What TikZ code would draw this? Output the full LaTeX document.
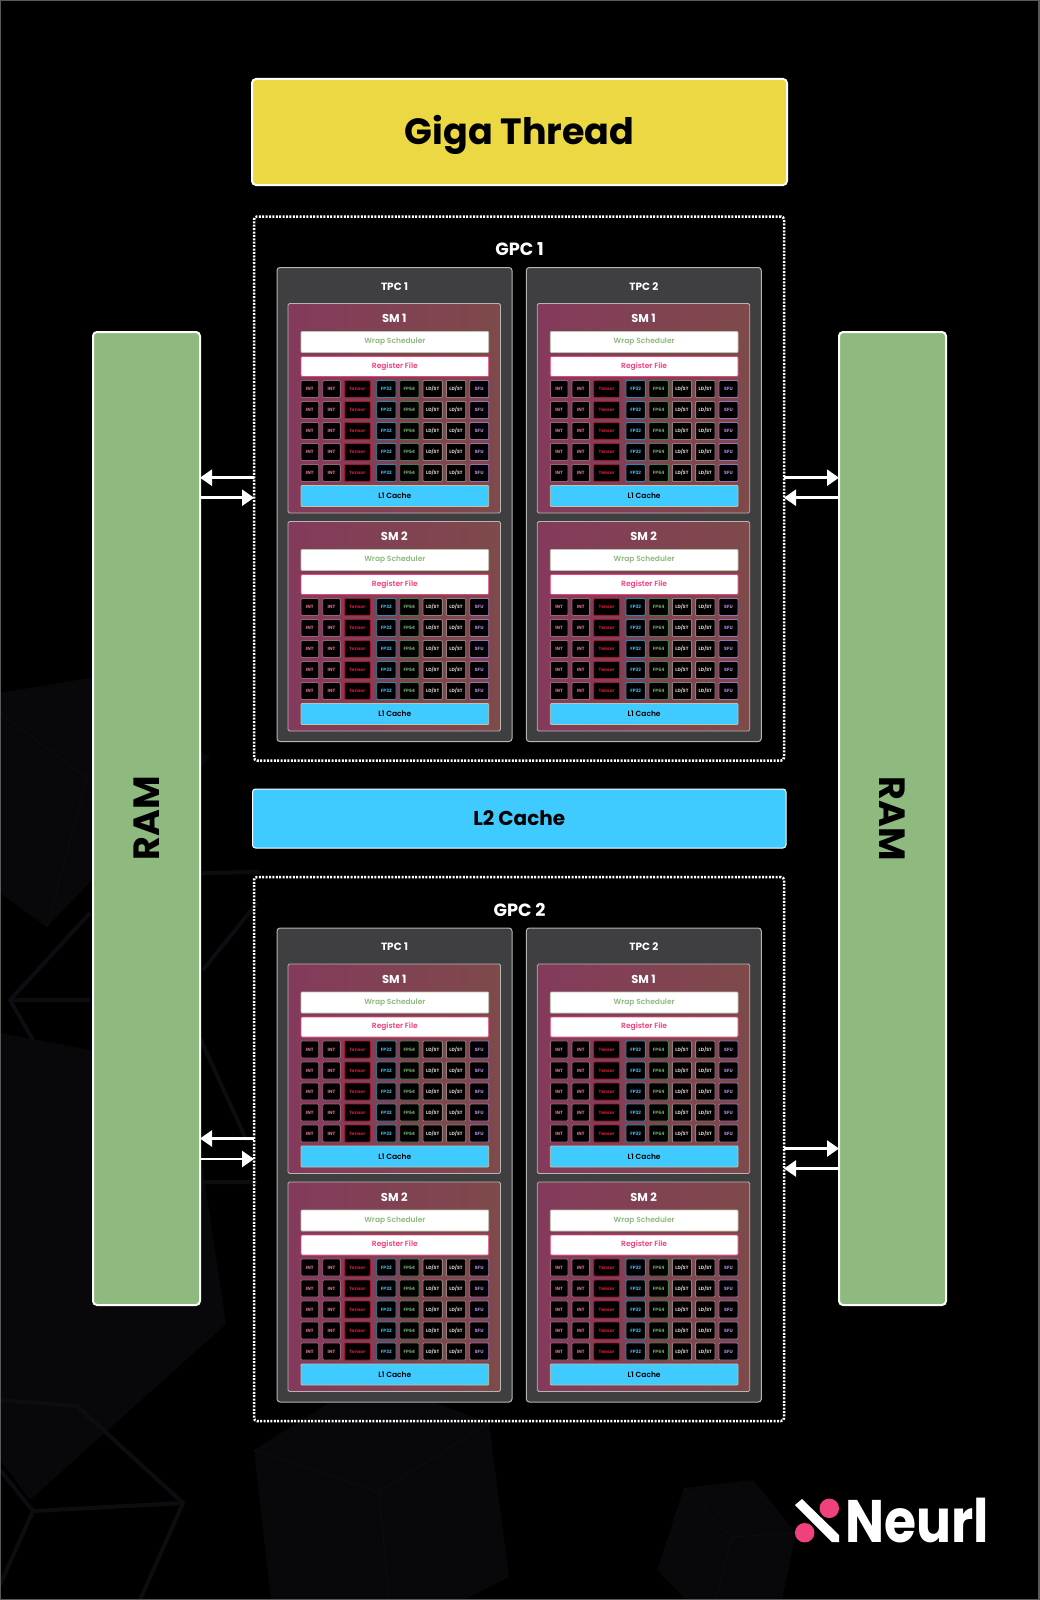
\documentclass[tikz,border=0pt]{standalone}
\usepackage{fontspec}
\setmainfont{Poppins}
\newfontfamily\popsemi{Poppins SemiBold}
\usetikzlibrary{arrows.meta}
\definecolor{bgshape}{HTML}{08080B}
\definecolor{bgline}{HTML}{0D0D11}
\definecolor{yellowbox}{HTML}{ECD843}
\definecolor{ramgreen}{HTML}{8EB97F}
\definecolor{cacheblue}{HTML}{3FCBFF}
\definecolor{tpcgrey}{HTML}{3F3F41}
\definecolor{tpcedge}{HTML}{B5B5B5}
\definecolor{smleft}{HTML}{843A5C}
\definecolor{smright}{HTML}{7E4A4A}
\definecolor{pink}{HTML}{F0417F}
\definecolor{wrapedge}{HTML}{B9C7AC}
\definecolor{intc}{HTML}{E0708F}
\definecolor{intedge}{HTML}{9A6078}
\definecolor{tensorc}{HTML}{C81E32}
\definecolor{tensoredge}{HTML}{A5142E}
\definecolor{fpbc}{HTML}{3FB5E5}
\definecolor{fpbedge}{HTML}{2F86AC}
\definecolor{fpgc}{HTML}{6FA860}
\definecolor{fpgedge}{HTML}{4A7A50}
\definecolor{ldc}{HTML}{D8CFC8}
\definecolor{ldedge}{HTML}{907E78}
\definecolor{sfuc}{HTML}{B88AE0}
\definecolor{sfuedge}{HTML}{9A70B8}
\tikzset{
  base/.style={rectangle,inner sep=0pt,outer sep=0pt,align=center},
  gigabox/.style={base,fill=yellowbox,draw=white,line width=2pt,rounded corners=4pt},
  gigalabel/.style={text=black,inner sep=0pt,font=\bfseries\fontsize{36.5}{36.5}\selectfont},
  rambox/.style={base,fill=ramgreen,draw=white,line width=2pt,rounded corners=4pt},
  ramlabel/.style={text=black,inner sep=0pt,font=\bfseries\fontsize{36.5}{36.5}\selectfont},
  ltwobox/.style={base,fill=cacheblue,draw=white,line width=1pt,rounded corners=3pt,text=black,font=\bfseries\fontsize{20}{20}\selectfont},
  gpcbox/.style={base,draw=white,line width=2.5pt,dash pattern=on 2pt off 1.4pt,rounded corners=3pt},
  gpctitle/.style={text=white,inner sep=0pt,font=\bfseries\fontsize{17.7}{17.7}\selectfont},
  tpcbox/.style={base,fill=tpcgrey,draw=tpcedge,line width=1pt,rounded corners=3pt},
  tpctitle/.style={text=white,inner sep=0pt,font=\bfseries\fontsize{10.5}{10.5}\selectfont},
  smbox/.style={base,left color=smleft,right color=smright,draw=tpcedge,line width=.8pt,rounded corners=1.5pt},
  smtitle/.style={text=white,inner sep=0pt,font=\bfseries\fontsize{11.5}{11.5}\selectfont},
  wrapbox/.style={base,fill=white,draw=wrapedge,line width=.8pt,rounded corners=1pt,text=ramgreen,font=\popsemi\fontsize{7.5}{7.5}\selectfont},
  regbox/.style={base,fill=white,draw=pink,line width=.8pt,rounded corners=1pt,text=pink,font=\popsemi\fontsize{7.5}{7.5}\selectfont},
  lonebox/.style={base,fill=cacheblue,draw=wrapedge,line width=.8pt,rounded corners=1pt,text=black,font=\popsemi\fontsize{7.5}{7.5}\selectfont},
  cell/.style={base,fill=black,line width=.9pt,rounded corners=1pt,font=\bfseries\fontsize{4.6}{4.6}\selectfont},
  intcell/.style={cell,draw=intedge,text=intc},
  tensorcell/.style={cell,draw=tensoredge,text=tensorc},
  fpbcell/.style={cell,draw=fpbedge,text=fpbc},
  fpgcell/.style={cell,draw=fpgedge,text=fpgc},
  ldcell/.style={cell,draw=ldedge,text=ldc},
  sfucell/.style={cell,draw=sfuedge,text=sfuc},
  linkarrow/.style={draw=white,line width=2.5pt,-{Triangle[length=12pt,width=16pt]}},
  shapefill/.style={fill=bgshape,draw=none},
  shapeline/.style={draw=bgline,line width=4pt,line join=round},
  shapeedge/.style={draw=bgline,line width=1pt},
  brandword/.style={text=white,inner sep=0pt,font=\bfseries\fontsize{60}{60}\selectfont},
  branddot/.style={circle,fill=pink,inner sep=0pt,minimum size=19.5pt},
}
\newcommand{\bx}[7]{%
  \pgfmathsetmacro\bw{#5-(#3)}\pgfmathsetmacro\bh{#6-(#4)}%
  \node[#2,minimum width=\bw pt,minimum height=\bh pt,anchor=north west] (#1) at (#3,#4) {#7};}
\newcommand{\smblock}[4]{%
  \begingroup
  \pgfmathsetmacro\sx{#2}\pgfmathsetmacro\sy{#3}%
  \bx{#1box}{smbox}{\sx}{\sy}{\sx+212.5}{\sy+209.5}{}%
  \node[smtitle] (#1title) at (\sx+106.3,\sy+15) {#4};
  \bx{#1wrap}{wrapbox}{\sx+13}{\sy+28}{\sx+200.7}{\sy+49}{Wrap Scheduler}%
  \bx{#1reg}{regbox}{\sx+13}{\sy+53}{\sx+200.7}{\sy+73}{Register File}%
  \bx{#1lone}{lonebox}{\sx+13}{\sy+182}{\sx+200.7}{\sy+203}{L1 Cache}%
  \foreach \r in {0,1,2,3,4}{%
    \pgfmathsetmacro\ry{\sy+77+21*\r}%
    \foreach \cn/\xa/\xb/\sty/\lab in {a/13/30.7/intcell/INT,b/34.7/52.3/intcell/INT,c/56.3/82.3/tensorcell/Tensor,d/88.7/108/fpbcell/FP32,e/111.7/131/fpgcell/FP64,f/135/154.3/ldcell/{LD/ST},g/158.3/177.7/ldcell/{LD/ST},h/181.7/200.7/sfucell/SFU}{%
      \bx{#1\cn\r}{\sty}{\sx+\xa}{\ry}{\sx+\xb}{\ry+17}{\lab}%
    }%
  }%
  \endgroup}
\newcommand{\tpcblock}[4]{%
  \begingroup
  \pgfmathsetmacro\tx{#2}\pgfmathsetmacro\ty{#3}%
  \bx{#1box}{tpcbox}{\tx}{\ty}{\tx+235}{\ty+474}{}%
  \node[tpctitle] (#1title) at (\tx+117.5,\ty+19) {#4};
  \smblock{#1sa}{\tx+11}{\ty+36}{SM 1}%
  \smblock{#1sb}{\tx+11}{\ty+254}{SM 2}%
  \endgroup}
\newcommand{\gpcblock}[3]{%
  \begingroup
  \pgfmathsetmacro\gy{#2}%
  \bx{#1}{gpcbox}{254}{\gy}{784}{\gy+544}{}%
  \node[gpctitle] (#1title) at (519.5,\gy+33) {#3};
  \tpcblock{#1ta}{277}{\gy+51}{TPC 1}%
  \tpcblock{#1tb}{526.3}{\gy+51}{TPC 2}%
  \endgroup}
\begin{document}
\begin{tikzpicture}[x=1pt,y=-1pt]
\useasboundingbox (0,0) rectangle (1039,1600);
\fill[black] (0,0) rectangle (1039,1600);
% faint background shapes
\fill[shapefill] (0,693) -- (90,678) -- (210,757) -- (47,927) -- (0,893) -- cycle;
\draw[shapeedge] (0,713) -- (87,778) -- (47,927);
\fill[shapefill] (0,1033) -- (92,1050) -- (200,1150) -- (226,1324) -- (30,1500) -- (0,1460) -- cycle;
\fill[shapefill] (254,1450) -- (329,1403) -- (436,1403) -- (489,1423) -- (509,1577) -- (464,1600) -- (271,1600) -- cycle;
\draw[shapeedge] (254,1450) -- (379,1492) -- (489,1423) (379,1492) -- (389,1600);
\fill[shapefill] (684,1488) -- (753,1480) -- (796,1533) -- (782,1600) -- (686,1600) -- (657,1570) -- cycle;
\draw[shapeedge] (684,1488) -- (732,1537) -- (796,1533) (732,1537) -- (716,1600);
\draw[shapeline] (90,913) -- (10,1000) -- (90,1000) (10,1000) -- (33,1040);
\draw[shapeline] (203,970) -- (257,903) (202,873) -- (260,872);
\draw[shapeline] (200,1038) -- (247,1141) (202,1182) -- (257,1182);
\draw[shapeline] (0,1400) -- (77,1406) -- (183,1503) -- (33,1511) -- (0,1470);
\draw[shapeline] (183,1503) -- (140,1600) (33,1511) -- (0,1585);
\draw[gray!70!black,line width=1.5pt] (0,0) rectangle (1039,1600);
% main blocks
\bx{giga}{gigabox}{252}{79}{787}{185}{}
\node[gigalabel] (gigat) at ([yshift=-2.5pt]giga.center) {Giga Thread};
\bx{ramL}{rambox}{93}{332}{200}{1305}{}
\bx{ramR}{rambox}{839}{332}{946}{1305}{}
\node[ramlabel,rotate=90] (ramLt) at (ramL.center) {RAM};
\node[ramlabel,rotate=-90] (ramRt) at (ramR.center) {RAM};
\bx{ltwo}{ltwobox}{252.5}{789}{786}{848}{L2 Cache}
\gpcblock{gpca}{216.5}{GPC 1}
\gpcblock{gpcb}{877}{GPC 2}
% links
\draw[linkarrow] (gpca.west |- 0,477.7) -- (ramL.east |- 0,477.7);
\draw[linkarrow] (ramL.east |- 0,497.7) -- (gpca.west |- 0,497.7);
\draw[linkarrow] (gpca.east |- 0,477.7) -- (ramR.west |- 0,477.7);
\draw[linkarrow] (ramR.west |- 0,497.7) -- (gpca.east |- 0,497.7);
\draw[linkarrow] (gpcb.west |- 0,1138.5) -- (ramL.east |- 0,1138.5);
\draw[linkarrow] (ramL.east |- 0,1159) -- (gpcb.west |- 0,1159);
\draw[linkarrow] (gpcb.east |- 0,1148.5) -- (ramR.west |- 0,1148.5);
\draw[linkarrow] (ramR.west |- 0,1168.5) -- (gpcb.east |- 0,1168.5);
% brand mark
\fill[white] (795,1505) -- (802,1499) -- (839,1535) -- (839,1542) -- (832,1542) -- cycle;
\node[branddot] (dota) at (829.3,1508.3) {};
\node[branddot] (dotb) at (804.7,1532.7) {};
\node[brandword,anchor=base west] (brand) at (845,1542) {\scalebox{0.865}[1]{Neurl}};
\end{tikzpicture}
\end{document}
